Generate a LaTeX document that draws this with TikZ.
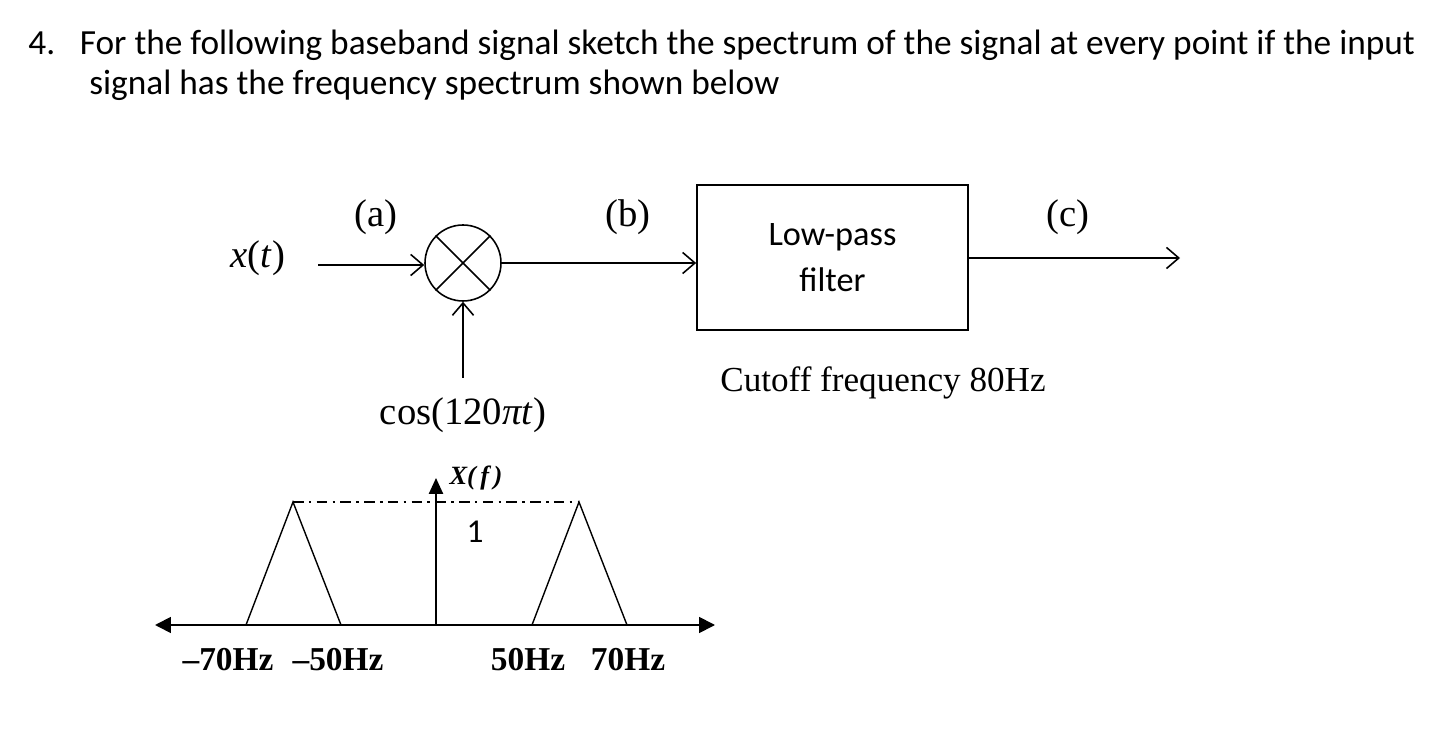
\documentclass[tikz,border=0pt]{standalone}
\usepackage{fontspec}
\setmainfont{Liberation Serif}
\newfontfamily\calfnt{Carlito}
\usetikzlibrary{arrows.meta}
\begin{document}
\begin{tikzpicture}[x=0.02cm,y=-0.02cm,
  sig/.style={line width=0.9pt,-{Straight Barb[length=7pt,width=12pt]}},
  ax/.style={line width=1pt},
  ser/.style={font=\fontsize{22}{26}\selectfont},
  hz/.style={font=\fontsize{19}{22}\selectfont\bfseries}]
\useasboundingbox (0,0) rectangle (1454,742);
\node[anchor=west,inner sep=0,font=\calfnt\fontsize{20.1}{23}\selectfont] (t1) at (28,45) {4.\hspace{0.7em}For the following baseband signal sketch the spectrum of the signal at every point if the input};
\node[anchor=west,inner sep=0,font=\calfnt\fontsize{20.1}{23}\selectfont] (t2) at (89,85) {signal has the frequency spectrum shown below};
% block diagram
\node[ser] (x) at (258,258) {\textit{x}(\textit{t})};
\node[ser] (la) at (376,217) {(a)};
\node[draw,circle,line width=0.9pt,inner sep=0,minimum size=1.52cm] (m) at (463,263) {};
\draw[line width=0.9pt] (m.45)--(m.225) (m.135)--(m.315);
\coordinate (xs) at (318,265);
\draw[sig] (xs) -- (m.west |- xs);
\node[ser] (cs) at (463,415) {cos(120\textit{πt})};
\coordinate (cu) at (463,378);
\draw[sig] (cu) -- (m.south);
\node[draw,line width=1pt,minimum width=5.42cm,minimum height=2.9cm,align=center,font=\calfnt\fontsize{19.5}{26}\selectfont] (lp) at (832.5,257.5) {Low-pass\\filter};
\draw[sig] (m.east) -- (lp.west |- m.east);
\node[ser] (lb) at (628,217) {(b)};
\coordinate (out) at (1180,258);
\draw[sig] (lp.east |- out) -- (out);
\node[ser] (lc) at (1068,217) {(c)};
\node[font=\fontsize{20}{24}\selectfont] (co) at (883,383) {Cutoff frequency 80Hz};
% spectrum
\coordinate (al) at (155,625); \coordinate (ar) at (715,625);
\coordinate (o) at (436,625); \coordinate (top) at (436,478);
\draw[ax,{Triangle[length=9pt,width=9pt]}-{Triangle[length=9pt,width=9pt]}] (al) -- (ar);
\draw[ax,-{Triangle[length=9pt,width=8pt]}] (o) -- (top);
\node[font=\fontsize{15}{17}\selectfont\bfseries\itshape] (X) at (476,478) {X(\,f\,)};
\node[font=\calfnt\fontsize{19}{22}\selectfont] (one) at (475,532) {1};
\coordinate (p1) at (293,502); \coordinate (p2) at (579,502);
\draw[line width=0.8pt] (246,625) -- (p1) -- (341,625);
\draw[line width=0.8pt] (532,625) -- (p2) -- (627,625);
\draw[line width=0.6pt,dash pattern=on 6pt off 3pt on 1.5pt off 3pt] (p1) -- (p2);
\node[hz] (h1) at (228,660) {--70Hz};
\node[hz] (h2) at (338,660) {--50Hz};
\node[hz] (h3) at (528,660) {50Hz};
\node[hz] (h4) at (628,660) {70Hz};
\end{tikzpicture}
\end{document}
